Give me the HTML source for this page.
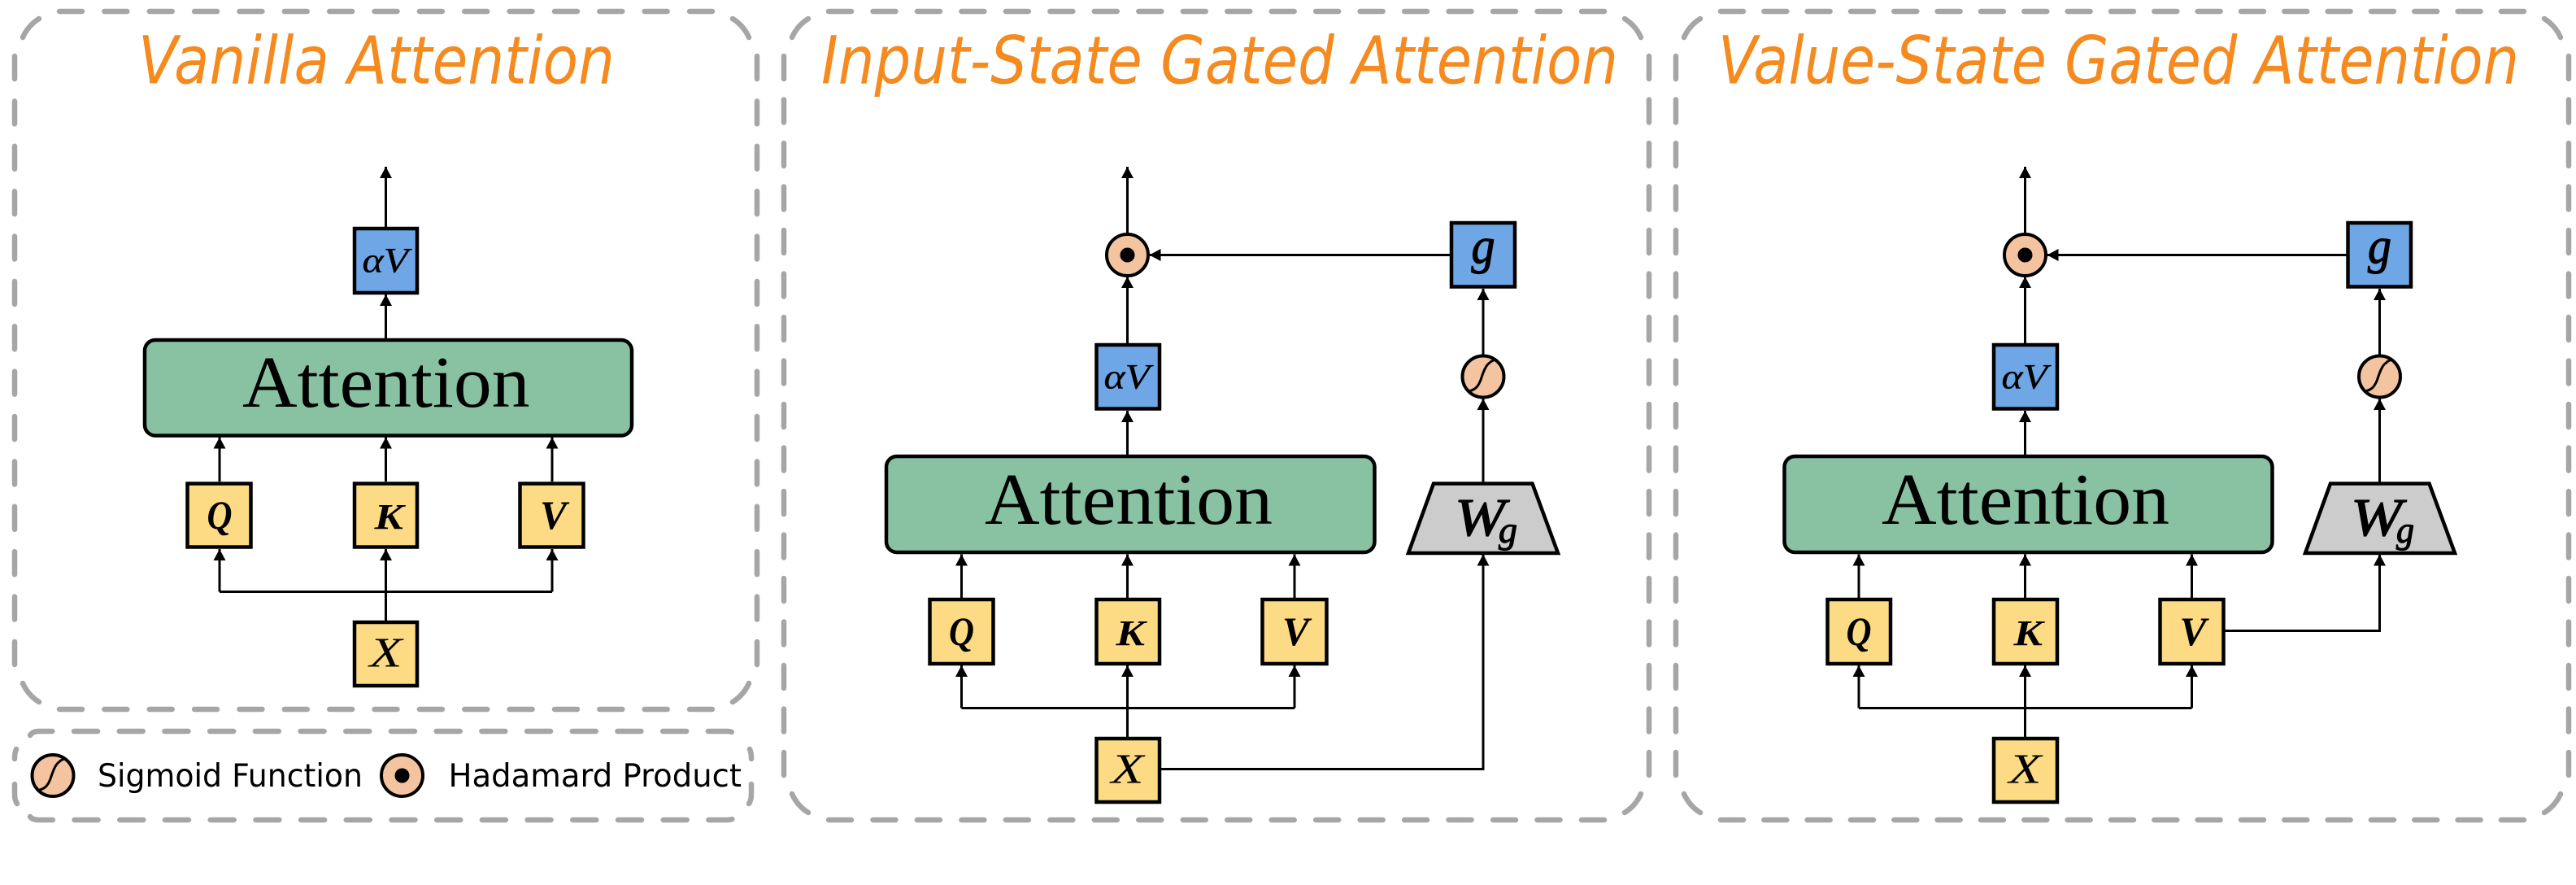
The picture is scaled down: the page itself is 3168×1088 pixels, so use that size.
<!DOCTYPE html>
<html><head><meta charset="utf-8">
<style>
html,body{margin:0;padding:0;background:#fff;width:3168px;height:1088px;overflow:hidden}
svg{display:block}
.d{fill:none;stroke:#a6a6a6;stroke-width:6.5;stroke-linecap:round}
.t{font-family:"DejaVu Sans",sans-serif;font-style:italic;font-size:81px;fill:#f58a1f}
.a{font-family:"Liberation Serif",serif;font-size:90px;fill:#000}
.m{font-family:"Liberation Serif",serif;font-style:italic;font-weight:bold;font-size:50px;fill:#000}
.v{font-family:"Liberation Serif",serif;font-style:italic;font-size:43px;fill:#000;stroke:#000;stroke-width:.3}
.x{font-family:"Liberation Serif",serif;font-style:italic;font-size:52px;fill:#000}
.W{font-family:"Liberation Serif",serif;font-style:italic;font-size:66px;fill:#000;stroke:#000;stroke-width:1.2}
.l{font-family:"DejaVu Sans",sans-serif;font-size:39px;fill:#000}
.b{fill:#6fa6e6;stroke:#000;stroke-width:4.5}
.y{fill:#fddb85;stroke:#000;stroke-width:4.5}
.g{fill:#88c2a2;stroke:#000;stroke-width:4.5}
.w{fill:#cccccc;stroke:#000;stroke-width:4.5}
.c{fill:#f4c3a0;stroke:#000;stroke-width:4}
.s{fill:none;stroke:#000;stroke-width:3}
</style></head><body>
<svg width="3168" height="1088" viewBox="0 0 3168 1088" xmlns="http://www.w3.org/2000/svg">
<defs>
<marker id="ah" markerUnits="userSpaceOnUse" markerWidth="16" markerHeight="16" refX="14" refY="8" orient="auto"><path d="M0 0.5L14 8L0 15.5z" fill="#000"/></marker>
<g id="sig"><circle r="25.5" class="c"/><path d="M-19 18C-10 17-6 12-3 4C0-5 3-14 8-17C11-20 14-21 17-20" class="s"/></g>
<g id="had"><circle r="25.5" class="c"/><circle r="9" fill="#000"/></g>
</defs>
<rect width="3168" height="1088" fill="#fff"/>

<!-- Panel 1 frame -->
<g class="d">
<path d="M73 14H876" stroke-dasharray="28 27.36"/>
<path d="M73 872H876" stroke-dasharray="28 27.36"/>
<path d="M18 69V817" stroke-dasharray="28 27.38"/>
<path d="M931 69V817" stroke-dasharray="28 27.38"/>
<path d="M48 23A52 52 0 0 0 28 46"/><path d="M901 23A52 52 0 0 1 921 46"/>
<path d="M48 863A52 52 0 0 1 28 840"/><path d="M901 863A52 52 0 0 0 921 840"/>
</g>
<text class="t" x="170" y="102.5" textLength="586" lengthAdjust="spacingAndGlyphs">Vanilla Attention</text>

<!-- Panel 1 diagram -->
<g class="s">
<path d="M474.5 279V205" marker-end="url(#ah)"/>
<path d="M474.5 416V362" marker-end="url(#ah)"/>
<path d="M270 592V537.5" marker-end="url(#ah)"/>
<path d="M474.5 592V537.5" marker-end="url(#ah)"/>
<path d="M679 592V537.5" marker-end="url(#ah)"/>
<path d="M474.5 763V675" marker-end="url(#ah)"/>
<path d="M270 727.5H679"/>
<path d="M270 727.5V675" marker-end="url(#ah)"/>
<path d="M679 727.5V675" marker-end="url(#ah)"/>
</g>
<rect class="b" x="436" y="281" width="77" height="79"/>
<rect class="g" x="178" y="418" width="599" height="117.5" rx="13"/>
<rect class="y" x="230.5" y="594.5" width="78" height="78"/>
<rect class="y" x="436" y="594.5" width="77" height="78"/>
<rect class="y" x="639.5" y="594.5" width="78" height="78"/>
<rect class="y" x="436" y="765" width="77" height="78"/>
<text class="v" x="445.5" y="334.6" textLength="56.5" lengthAdjust="spacingAndGlyphs">αV</text>
<text class="a" x="298" y="500" textLength="353.5" lengthAdjust="spacingAndGlyphs">Attention</text>
<text class="m" x="254.5" y="650" textLength="31" lengthAdjust="spacingAndGlyphs">Q</text>
<text class="m" style="font-size:44px" x="460.5" y="650" textLength="35.5" lengthAdjust="spacingAndGlyphs">K</text>
<text class="m" x="664" y="650" textLength="33" lengthAdjust="spacingAndGlyphs">V</text>
<text class="x" x="454.5" y="819.6" textLength="40" lengthAdjust="spacingAndGlyphs">X</text>

<!-- Legend -->
<g class="d">
<path d="M37 904Q40 899 48 899H894Q902 899 905 904" stroke-dasharray="29 26.7"/>
<path d="M37 1004Q40 1008 48 1008H894Q902 1008 905 1004" stroke-dasharray="29 26.7"/>
<path d="M20 921Q18 925 18 933"/><path d="M18 964V976Q18 984 21 988"/>
<path d="M922 921Q924 925 924 933"/><path d="M924 964V976Q924 984 921 988"/>
</g>
<use href="#sig" x="65" y="953.5"/>
<use href="#had" x="494.5" y="953.5"/>
<text class="l" x="120" y="967" textLength="326" lengthAdjust="spacingAndGlyphs">Sigmoid Function</text>
<text class="l" x="551.5" y="967" textLength="360.5" lengthAdjust="spacingAndGlyphs">Hadamard Product</text>

<!-- Panel 2 frame -->
<g class="d">
<path d="M1019 14H1973" stroke-dasharray="28 26.47"/>
<path d="M1019 1008H1973" stroke-dasharray="28 26.47"/>
<path d="M964 69V953" stroke-dasharray="28 25.5"/>
<path d="M2028 69V953" stroke-dasharray="28 25.5"/>
<path d="M994 23A52 52 0 0 0 974 46"/><path d="M1998 23A52 52 0 0 1 2018 46"/>
<path d="M994 999A52 52 0 0 1 974 976"/><path d="M1998 999A52 52 0 0 0 2018 976"/>
</g>
<text class="t" x="1010" y="102.5" textLength="980" lengthAdjust="spacingAndGlyphs">Input-State Gated Attention</text>

<!-- Panel 2 diagram -->
<g class="s">
<path d="M1386.5 287V205" marker-end="url(#ah)"/>
<path d="M1386.5 422V340" marker-end="url(#ah)"/>
<path d="M1386.5 559V505" marker-end="url(#ah)"/>
<path d="M1783 313.5H1413.5" marker-end="url(#ah)"/>
<path d="M1824 436V355" marker-end="url(#ah)"/>
<path d="M1824 594V490" marker-end="url(#ah)"/>
<path d="M1182.5 735V681.5" marker-end="url(#ah)"/>
<path d="M1386.5 735V681.5" marker-end="url(#ah)"/>
<path d="M1592 735V681.5" marker-end="url(#ah)"/>
<path d="M1386.5 906V818" marker-end="url(#ah)"/>
<path d="M1182.5 870.5H1592"/>
<path d="M1182.5 870.5V818" marker-end="url(#ah)"/>
<path d="M1592 870.5V818" marker-end="url(#ah)"/>
<path d="M1428 945.5H1824V681.5" marker-end="url(#ah)"/>
</g>
<use href="#had" x="1386.5" y="313.5"/>
<use href="#sig" x="1824" y="463"/>
<rect class="b" x="1785" y="274" width="78" height="78.5"/>
<rect class="b" x="1348.5" y="424" width="77.5" height="78.5"/>
<rect class="g" x="1090" y="561" width="600.5" height="118" rx="13"/>
<path class="w" d="M1763 594.5H1884.5L1916 680H1732z"/>
<rect class="y" x="1143.5" y="737" width="78" height="79"/>
<rect class="y" x="1348.5" y="737" width="77.5" height="79"/>
<rect class="y" x="1552.5" y="737" width="79" height="79"/>
<rect class="y" x="1348.5" y="908" width="77.5" height="78"/>
<text class="W" x="1809.5" y="323" style="font-size:62px" textLength="29" lengthAdjust="spacingAndGlyphs">g</text>
<text class="v" x="1357.5" y="477.6" textLength="56.5" lengthAdjust="spacingAndGlyphs">αV</text>
<text class="a" x="1211" y="644" textLength="354" lengthAdjust="spacingAndGlyphs">Attention</text>
<text class="W" x="1789" y="658" textLength="62" lengthAdjust="spacingAndGlyphs">W</text>
<text class="W" style="font-size:46px" x="1843" y="667" textLength="23" lengthAdjust="spacingAndGlyphs">g</text>
<text class="m" x="1167" y="793" textLength="31" lengthAdjust="spacingAndGlyphs">Q</text>
<text class="m" style="font-size:44px" x="1372.5" y="793" textLength="35.5" lengthAdjust="spacingAndGlyphs">K</text>
<text class="m" x="1577" y="793" textLength="33" lengthAdjust="spacingAndGlyphs">V</text>
<text class="x" x="1366.5" y="962.6" textLength="40" lengthAdjust="spacingAndGlyphs">X</text>

<!-- Panel 3 frame -->
<g class="d">
<path d="M2116 14H3104" stroke-dasharray="28 25.33"/>
<path d="M2116 1008H3104" stroke-dasharray="28 25.33"/>
<path d="M2061 69V953" stroke-dasharray="28 25.5"/>
<path d="M3159 69V953" stroke-dasharray="28 25.5"/>
<path d="M2091 23A52 52 0 0 0 2071 46"/><path d="M3129 23A52 52 0 0 1 3149 46"/>
<path d="M2091 999A52 52 0 0 1 2071 976"/><path d="M3129 999A52 52 0 0 0 3149 976"/>
</g>
<text class="t" x="2113" y="102.5" textLength="985" lengthAdjust="spacingAndGlyphs">Value-State Gated Attention</text>

<!-- Panel 3 diagram -->
<g class="s">
<path d="M2490.5 287V205" marker-end="url(#ah)"/>
<path d="M2490.5 422V340" marker-end="url(#ah)"/>
<path d="M2490.5 559V505" marker-end="url(#ah)"/>
<path d="M2886 313.5H2517.5" marker-end="url(#ah)"/>
<path d="M2926.5 436V355" marker-end="url(#ah)"/>
<path d="M2926.5 594V490" marker-end="url(#ah)"/>
<path d="M2286 735V681.5" marker-end="url(#ah)"/>
<path d="M2490.5 735V681.5" marker-end="url(#ah)"/>
<path d="M2695.5 735V681.5" marker-end="url(#ah)"/>
<path d="M2490.5 906V818" marker-end="url(#ah)"/>
<path d="M2286 870.5H2695.5"/>
<path d="M2286 870.5V818" marker-end="url(#ah)"/>
<path d="M2695.5 870.5V818" marker-end="url(#ah)"/>
<path d="M2736 775.5H2926.5V681.5" marker-end="url(#ah)"/>
</g>
<use href="#had" x="2490.5" y="313.5"/>
<use href="#sig" x="2926.5" y="463"/>
<rect class="b" x="2887.5" y="274" width="77.5" height="78.5"/>
<rect class="b" x="2452" y="424" width="78" height="78.5"/>
<rect class="g" x="2194.5" y="561" width="600" height="118" rx="13"/>
<path class="w" d="M2866 594.5H2987.5L3019 680H2835z"/>
<rect class="y" x="2247.5" y="737" width="77.5" height="79"/>
<rect class="y" x="2452" y="737" width="78" height="79"/>
<rect class="y" x="2656.5" y="737" width="78" height="79"/>
<rect class="y" x="2452" y="908" width="78" height="78"/>
<text class="W" x="2912" y="323" style="font-size:62px" textLength="29" lengthAdjust="spacingAndGlyphs">g</text>
<text class="v" x="2461.5" y="477.6" textLength="56.5" lengthAdjust="spacingAndGlyphs">αV</text>
<text class="a" x="2314" y="644" textLength="354" lengthAdjust="spacingAndGlyphs">Attention</text>
<text class="W" x="2891" y="658" textLength="63" lengthAdjust="spacingAndGlyphs">W</text>
<text class="W" style="font-size:46px" x="2947" y="667" textLength="22" lengthAdjust="spacingAndGlyphs">g</text>
<text class="m" x="2270.5" y="793" textLength="31" lengthAdjust="spacingAndGlyphs">Q</text>
<text class="m" style="font-size:44px" x="2476.5" y="793" textLength="35.5" lengthAdjust="spacingAndGlyphs">K</text>
<text class="m" x="2680.5" y="793" textLength="33" lengthAdjust="spacingAndGlyphs">V</text>
<text class="x" x="2470.5" y="962.6" textLength="40" lengthAdjust="spacingAndGlyphs">X</text>
</svg>
</body></html>
